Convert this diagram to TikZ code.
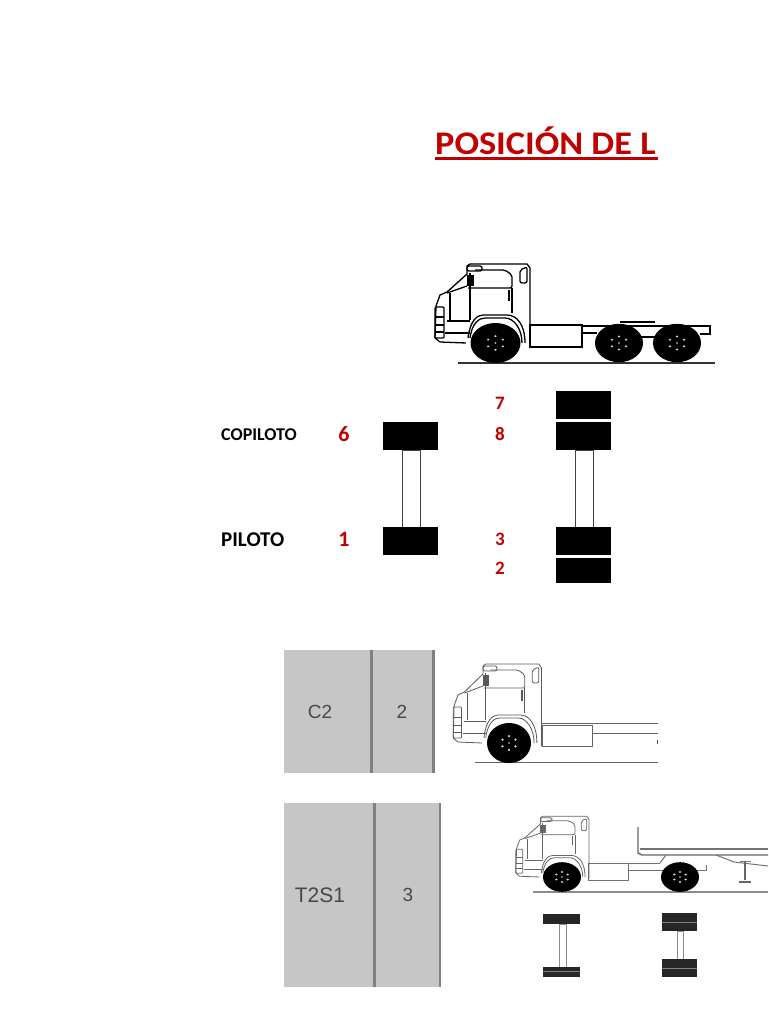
\documentclass[tikz,border=0pt]{standalone}
\usepackage{fontspec}
\setmainfont{Carlito}
\newfontfamily\boxfont{Liberation Sans}
\definecolor{titlered}{HTML}{C00000}
\definecolor{boxgray}{HTML}{C6C6C6}
\definecolor{boxline}{HTML}{808080}
\definecolor{boxtext}{HTML}{484848}
\tikzset{
  tyre/.style={fill=black},
  axle/.style={draw=black!75,fill=white,line width=.8pt},
  num/.style={text=titlered,font=\bfseries\fontsize{19}{19}\selectfont},
  bignum/.style={text=titlered,font=\bfseries\fontsize{22}{22}\selectfont},
  cell/.style={text=boxtext,font=\boxfont\fontsize{19}{19}\selectfont},
  pics/wheel/.style={code={
    \fill[black] (0,0) circle(#1);
    \foreach \ang in {30,90,...,330}
      \fill[black!15] (\ang:#1*.34) circle(1.3);
    \fill[black!15] (0,0) circle(1);
  }},
  pics/cabin/.style={code={
    \draw[line join=round] (-60,-5) -- (-59,-37) -- (-55,-48) -- (-48,-51) -- (-28,-69) -- (-28,-77)
      -- (-25,-79) -- (32,-79) -- (35,-75) -- (35,3);
    \draw (-60,-5) -- (-55,-1) -- (-29,0);
    \draw[rounded corners=1] (-60,-36) rectangle (-51,-5);
    \draw (-60,-26) -- (-51,-26) (-60,-18) -- (-51,-18) (-60,-11) -- (-51,-11);
    \draw (-48,-22) -- (-25,-22) (-50,-10) -- (-25,-10);
    \draw (-45,-50) -- (-45,-23) (-25,-70) -- (-25,-23);
    \draw (-48,-50) -- (-28,-57);
    \fill (-28,-68) rectangle (-21,-57);
    \draw[rounded corners=2] (-28,-77) rectangle (-13,-72);
    \draw[rounded corners=2] (-20,-73) -- (10,-73) -- (17,-68) -- (17,-55) -- (-27,-55);
    \draw (17,-55) -- (17,-30);
    \draw[line width=1.4pt] (14,-53) -- (14,-42);
    \draw[rounded corners=2] (25,-60) -- (25,-73) -- (32,-76) -- (32,-60) -- cycle;
    \draw (-27,-5) .. controls (-25,-22) and (-18,-28) .. (-12,-28) -- (12,-28)
      .. controls (22,-28) and (30,-18) .. (30,0);
    \draw (-25,-5) .. controls (-23,-20) and (-16,-25) .. (-10,-25) -- (10,-25)
      .. controls (19,-25) and (27,-14) .. (27,0);
  }}
}
\begin{document}
\begin{tikzpicture}[x=1pt,y=-1pt]
  \useasboundingbox (0,0) rectangle (768,1024);
  % title, cut off at the right
  \begin{scope}
    \clip (420,120) rectangle (654.5,170);
    \node[anchor=base west,inner sep=0,text=titlered,font=\bfseries\fontsize{33}{33}\selectfont,xscale=1.1] (title) at (435,154.5) {POSICIÓN DE L};
  \end{scope}
  \draw[titlered,line width=2.6pt] (435,158.7) -- (658,158.7);
  % first truck
  \draw[line width=1.3pt] (530,325) rectangle (582,347);
  \draw[line width=1.3pt] (582,326) -- (710,326) -- (710,334) -- (700,334);
  \draw[line width=1.3pt] (582,333) -- (597,333) (640,337) -- (655,337);
  \draw[line width=1.8pt] (620,322) -- (655,322);
  \draw[black!80,line width=1.3pt] (458,363) -- (715,363);
  \pic[line width=1.3pt] at (495,343) {cabin};
  \pic[yscale=.8] at (495.5,343) {wheel=25};
  \pic[yscale=.8] at (619,343) {wheel=24};
  \pic[yscale=.8] at (677,343) {wheel=24};
  % axle plan
  \draw[axle] (402,450) rectangle (420.7,527);
  \draw[axle] (575,450) rectangle (593.3,527);
  \fill[tyre] (383.3,421.7) rectangle (438,450);
  \fill[tyre] (383.3,527.3) rectangle (438,555);
  \fill[tyre] (556,391) rectangle (610.7,419.3);
  \fill[tyre] (556,421.7) rectangle (610.7,450);
  \fill[tyre] (556,527.3) rectangle (610.7,555);
  \fill[tyre] (556,557.7) rectangle (610.7,583.3);
  \node[anchor=west,inner sep=0,font=\bfseries\fontsize{18}{18}\selectfont] (copiloto) at (221,434.5) {COPILOTO};
  \node[anchor=west,inner sep=0,font=\bfseries\fontsize{21}{21}\selectfont] (piloto) at (221,539.5) {PILOTO};
  \node[bignum] (n6) at (344,434.5) {6};
  \node[bignum] (n1) at (344,539.5) {1};
  \node[num] (n7) at (500,403.5) {7};
  \node[num] (n8) at (500,434.5) {8};
  \node[num] (n3) at (500,539.5) {3};
  \node[num] (n2) at (500,568.5) {2};
  % C2 row
  \fill[boxgray] (284,650) rectangle (435,773);
  \fill[boxline] (369.5,650) rectangle (372.5,773);
  \fill[boxline] (432,650) rectangle (435,773);
  \node[cell] (c2) at (320,712) {C2};
  \node[cell] (c2n) at (402,712) {2};
  \begin{scope}
    \clip (440,650) rectangle (658,775);
    \draw[black!60,line width=1pt] (542,725) rectangle (592,746);
    \draw[black!60,line width=1pt] (542,723) -- (658,723) (592,733) -- (658,733) (475,762) -- (658,762);
    \draw[black!70,line width=1pt] (657.5,740) -- (657.5,744);
    \pic[xscale=.93,draw=black!65,line width=.8pt,fill=black!65] at (509,743) {cabin};
    \pic[yscale=.91] at (509,743) {wheel=22};
  \end{scope}
  % T2S1 row
  \fill[boxgray] (284,803) rectangle (441,987);
  \fill[boxline] (373,803) rectangle (376,987);
  \fill[boxline] (438.5,803) rectangle (441,987);
  \node[cell,font=\boxfont\fontsize{21}{21}\selectfont] (t2s1) at (320,895) {T2S1};
  \node[cell] (t2s1n) at (408,895) {3};
  \draw[black!55,line width=1pt] (588,863) rectangle (628,880);
  \draw[black!55,line width=1pt] (588,863) -- (660,863) (628,870) -- (706,870) -- (706,865);
  \draw[black!45,line width=1.2pt] (533,892) -- (768,892);
  \draw[black!60,line width=1.4pt] (638,827) -- (638,853) -- (642,855) -- (768,855);
  \draw[black!55,line width=2.4pt] (640,849) -- (768,849);
  \draw[black!55,line width=1pt] (660,863) -- (666,855) (716,855) -- (734,862) -- (768,866);
  \draw[black!60,line width=1.8pt] (745,862) -- (745,880) (739,882) -- (751,882);
  \draw[black!55,line width=1pt] (740,861) -- (751,861);
  \pic[scale=.77,draw=black!60,line width=.8pt,fill=black!60] at (562,877) {cabin};
  \pic[yscale=.78] at (562,877) {wheel=19};
  \pic[yscale=.78] at (680,877) {wheel=19};
  % small axle plan
  \draw[axle,draw=black!45] (559,924) rectangle (566,967);
  \draw[axle,draw=black!45] (677,931) rectangle (683,959);
  \fill[black!85] (543,914) rectangle (580,924);
  \fill[black!85] (543,967) rectangle (580,977);
  \fill[black!85] (662,913) rectangle (697,931);
  \fill[black!85] (662,959) rectangle (697,977);
  \draw[black!50,line width=.5pt] (662,922) -- (697,922) (662,968) -- (697,968) (543,971) -- (580,971);
\end{tikzpicture}
\end{document}
